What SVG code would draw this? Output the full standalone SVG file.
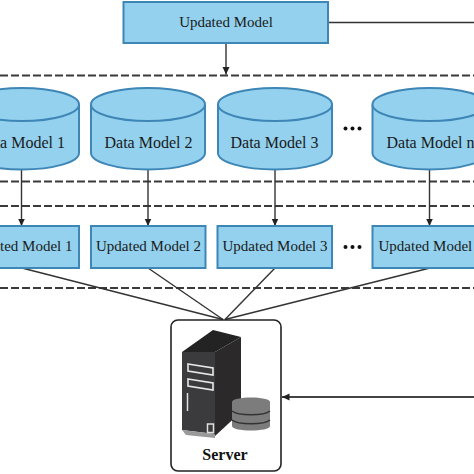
<svg xmlns="http://www.w3.org/2000/svg" width="474" height="474" viewBox="0 0 474 474">
<style>
.b{fill:#93d1ee;stroke:#3e86b6;stroke-width:2}
.t{font-family:"Liberation Serif","Times New Roman",serif;font-size:15px;fill:#1a1a1a;text-anchor:middle}
.m{font-size:16px}
.d{fill:none;stroke:#3a3a3a;stroke-width:2;stroke-dasharray:8 3}
.c{fill:none;stroke:#333;stroke-width:1.4}
.dot{fill:#111}
</style>
<defs>
<marker id="a" markerWidth="8" markerHeight="8" refX="7.5" refY="3.5" orient="auto" markerUnits="userSpaceOnUse"><path d="M0 0L7.5 3.5L0 7z" fill="#222"/></marker>
<g id="cyl"><path class="b" d="M-57 16.5V65C-57 74 -31.500 81.500 0 81.500S57 74 57 65V16.500"/><ellipse class="b" cx="0" cy="16.500" rx="57" ry="16.500"/></g>
</defs>
<line class="d" x1="0" y1="75.500" x2="474" y2="75.500"/>
<line class="d" x1="0" y1="181.500" x2="474" y2="181.500"/>
<line class="d" x1="0" y1="206" x2="474" y2="206"/>
<line class="d" x1="0" y1="288" x2="474" y2="288"/>
<g id="connectors">
<line class="c" x1="226" y1="43" x2="226" y2="74.500" marker-end="url(#a)"/>
<line class="c" x1="328" y1="22.500" x2="474" y2="22.500"/>
<line class="c" x1="21.500" y1="169.500" x2="21.500" y2="226" marker-end="url(#a)"/>
<line class="c" x1="148" y1="169.500" x2="148" y2="226" marker-end="url(#a)"/>
<line class="c" x1="275" y1="169.500" x2="275" y2="226" marker-end="url(#a)"/>
<line class="c" x1="429.500" y1="169.500" x2="429.500" y2="226" marker-end="url(#a)"/>
<line class="c" x1="22" y1="268" x2="223" y2="319.500"/>
<line class="c" x1="148" y1="268" x2="223" y2="319.500"/>
<line class="c" x1="275" y1="268" x2="225" y2="319.500"/>
<line class="c" x1="430" y1="268" x2="225" y2="319.500"/>
<line x1="474" y1="397" x2="282" y2="397" stroke="#444" stroke-width="2" marker-end="url(#a)"/>
</g>
<g id="top-model"><rect class="b" x="123.500" y="2" width="204.500" height="41"/><text class="t" x="226" y="27">Updated Model</text></g>
<g id="data1"><use href="#cyl" x="22" y="88"/><text class="t m" x="21" y="148">Data Model 1</text></g>
<g id="data2"><use href="#cyl" x="148" y="88"/><text class="t m" x="148.500" y="148">Data Model 2</text></g>
<g id="data3"><use href="#cyl" x="275" y="88"/><text class="t m" x="274.500" y="148">Data Model 3</text></g>
<g id="datan"><use href="#cyl" x="429.500" y="88"/><text class="t m" x="430.500" y="148">Data Model n</text></g>
<g id="upd1"><rect class="b" x="-35" y="226" width="114" height="42"/><text class="t" x="20" y="251">Updated Model 1</text></g>
<g id="upd2"><rect class="b" x="91" y="226" width="114.500" height="42"/><text class="t" x="148.500" y="251">Updated Model 2</text></g>
<g id="upd3"><rect class="b" x="217.500" y="226" width="114.500" height="42"/><text class="t" x="275" y="251">Updated Model 3</text></g>
<g id="updn"><rect class="b" x="372.500" y="226" width="114.500" height="42"/><text class="t" x="431" y="251">Updated Model n</text></g>
<g class="dot"><circle cx="345.500" cy="128.500" r="2"/><circle cx="352.500" cy="128.500" r="2"/><circle cx="359.500" cy="128.500" r="2"/><circle cx="345.500" cy="247" r="2"/><circle cx="352.500" cy="247" r="2"/><circle cx="359.500" cy="247" r="2"/></g>
<g id="server">
<rect x="171" y="320" width="110" height="151" rx="7" fill="#fff" stroke="#222" stroke-width="1.600"/>
<path d="M182 352L213 330L241 337L215 352z" fill="#232323"/>
<path d="M215 352L241 337V412L215 436z" fill="#2b2929"/>
<path d="M182 352L215 352V434L182 430z" fill="#3b3b3d"/>
<path d="M182 430L215 434V438L186 435z" fill="#9a9a9a"/>
<path d="M188 364L213 368V375L188 371zM188 379L213 383V390L188 386z" fill="none" stroke="#e8e8e8" stroke-width="1.600"/>
<line x1="187.500" y1="393" x2="187.500" y2="411" stroke="#e0e0e0" stroke-width="1.500"/>
<rect x="207.500" y="424" width="6" height="8.500" fill="none" stroke="#e0e0e0" stroke-width="1.500"/>
<path d="M232 402C232 396 270 396 270 402V426C270 432 232 432 232 426z" fill="#7c7c7c"/>
<path d="M232 411C238 416 264 416 270 411M232 420C238 425 264 425 270 420" fill="none" stroke="#333" stroke-width="1.300"/>
<text x="225" y="460" font-family="Liberation Serif,serif" font-size="16" font-weight="700" fill="#111" text-anchor="middle">Server</text>
</g>
</svg>
